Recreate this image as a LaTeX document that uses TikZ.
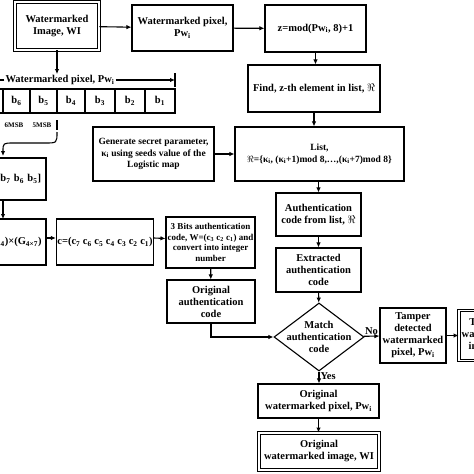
\documentclass[tikz,border=0pt]{standalone}
\usepackage{fontspec}
\setmainfont{Liberation Serif}
\usepackage{amsmath,amssymb}
\usetikzlibrary{shapes.geometric}
\usetikzlibrary{arrows.meta}
\newcommand{\pwi}{Pw\textsubscript{i}}
\newcommand{\kpi}{κ\textsubscript{i}}
\tikzset{
   box/.style 2 args={draw, line width=1.1pt, align=center, inner sep=1pt,
      minimum width=#1pt, minimum height=#2pt,
      font=\bfseries\fontsize{10.5}{12}\selectfont},
   dbox/.style 2 args={box={#1}{#2}, double, double distance=1.6pt, line width=0.9pt},
   small/.style={font=\bfseries\fontsize{9.5}{11.5}\selectfont},
   lab/.style={inner sep=1pt, font=\bfseries\fontsize{10.5}{12}\selectfont},
   arr/.style={-{Latex[length=5pt,width=4.5pt]}, line width=1.1pt},
   cell/.style={line width=1.1pt},
    }
\begin{document}
\begin{tikzpicture}[x=1pt,y=-1pt]
            \clip (0,0) rectangle (474,474);
            % top row
            \node[dbox={84}{48}] (wi) at (57,26) {Watermarked\\Image, WI};
            \node[box={101}{46}] (pix) at (182.5,28) {Watermarked pixel,\\\pwi};
            \node[box={101}{47}] (zmod) at (315.5,28.5) {z=mod(\pwi, 8)+1};
            \node[box={132}{47}] (find) at (314,88.5) {Find, z-th element in list, $\Re$};
            \node[box={169}{54}, small] (list) at (319.5,154) {List,\\$\Re$=\{\kpi, (\kpi+1)mod 8,\ldots,(\kpi+7)mod 8\}};
            \node[box={121}{54}, small] (gen) at (153.5,154) {Generate secret parameter,\\\kpi{} using seeds value of the\\Logistic map};
            \node[box={85}{43}] (auth) at (318.5,214.5) {Authentication\\code from list, $\Re$};
            \node[box={85}{44}] (extr) at (318.5,270) {Extracted\\authentication\\code};
            \node[draw, diamond, line width=1.1pt, minimum width=90pt, minimum height=68pt, inner sep=0pt] (match) at (319,337) {};
            \node[lab, align=center] (matchtxt) at (match) {Match\\authentication\\code};
            \node[box={66}{55}] (tamp) at (413,335.5) {Tamper\\detected\\watermarked\\pixel, \pwi};
            \node[dbox={66}{50}] (timg) at (492,335.5) {Tampered\\watermarked\\image, WI};
            \node[box={121}{34}] (opix) at (318.5,401) {Original\\watermarked pixel, \pwi};
            \node[dbox={120}{37}] (oimg) at (319,451.5) {Original\\watermarked image, WI};
            % bits of the pixel
            \node[lab] (pwlab) at (60,80) {Watermarked pixel, \pwi};
            \coordinate (ltick) at (-60,80);
            \coordinate (rtick) at (175,80);
            \draw[arr] (pwlab.west) -- (ltick);
            \draw[arr] (pwlab.east) -- (rtick);
            \draw[cell] (175,73) -- (175,87);
            \foreach \xa/\xb/\bit in {-51/-24/8, -24/3/7, 3/30/6, 30/57/5, 57/85/4, 85/115/3, 115/145/2, 145/175/1}{
                \draw[cell] (\xa,89) rectangle (\xb,113);
                \node[lab] (b\bit) at ({(\xa+\xb)/2},101) {b\textsubscript{\bit}};
            }
            \node[inner sep=1pt, font=\bfseries\fontsize{7}{8}\selectfont] (msb6) at (14,125) {6MSB};
            \node[inner sep=1pt, font=\bfseries\fontsize{7}{8}\selectfont] (msb5) at (42,125) {5MSB};
            \draw[cell] (57,120) -- (57,130);
            \coordinate (bend) at (57,132);
            \coordinate (dtop) at (3,156);
            \draw[arr] (bend) .. controls (57,143) .. (45,143) -- (14,143) .. controls (3,143) .. (dtop);
            % left column
            \node[box={106}{42}, text width=96pt, align=right] (dvec) at (-7,179) {d=[b\textsubscript{8} b\textsubscript{7} b\textsubscript{6} b\textsubscript{5}]};
            \node[box={106}{46}, text width=97pt, align=right] (gmul) at (-7,242) {(d\textsubscript{1×4})×(G\textsubscript{4×7})};
            \node[box={94}{46}] (cvec) at (105,242) {c=(c\textsubscript{7} c\textsubscript{6} c\textsubscript{5} c\textsubscript{4} c\textsubscript{3} c\textsubscript{2} c\textsubscript{1})};
            \node[box={89}{51}, font=\bfseries\fontsize{9}{10.5}\selectfont] (bits) at (210.5,242.5) {3 Bits authentication\\code, W=(c\textsubscript{3} c\textsubscript{2} c\textsubscript{1}) and\\convert into integer\\number};
            \node[box={88}{43}] (oauth) at (211,301.5) {Original\\authentication\\code};
            % connectors
            \draw[arr] (wi) -- (pix);
            \draw[arr] (pix) -- (zmod);
            \draw[arr] (wi.south) -- (wi.south |- pwlab.north);
            \draw[arr] (zmod.south) -- (zmod.south |- find.north);
            \draw[arr] (find.south) -- (find.south |- list.north);
            \draw[arr] (gen) -- (list);
            \draw[arr] (list.south) -- (list.south -| auth) -- (auth.north);
            \draw[arr] (auth) -- (extr);
            \draw[arr] (extr) -- (match);
            \draw[arr] (match) -- node[lab, above] {No} (tamp);
            \draw[arr] (tamp) -- (timg);
            \draw[arr] (match) -- node[lab, right, pos=0.35] {Yes} (match |- opix.north);
            \draw[arr] (opix) -- (opix |- oimg.north);
            \draw[arr] (3,200) -- (3,219);
            \draw[arr] ([yshift=4pt]gmul.east) -- ([yshift=4pt]cvec.west);
            \draw[arr] ([yshift=4pt]cvec.east) -- ([yshift=4pt]bits.west);
            \draw[arr] (bits) -- (oauth);
            \draw[arr] (oauth.south) |- (match.west);
        \end{tikzpicture}
\end{document}
